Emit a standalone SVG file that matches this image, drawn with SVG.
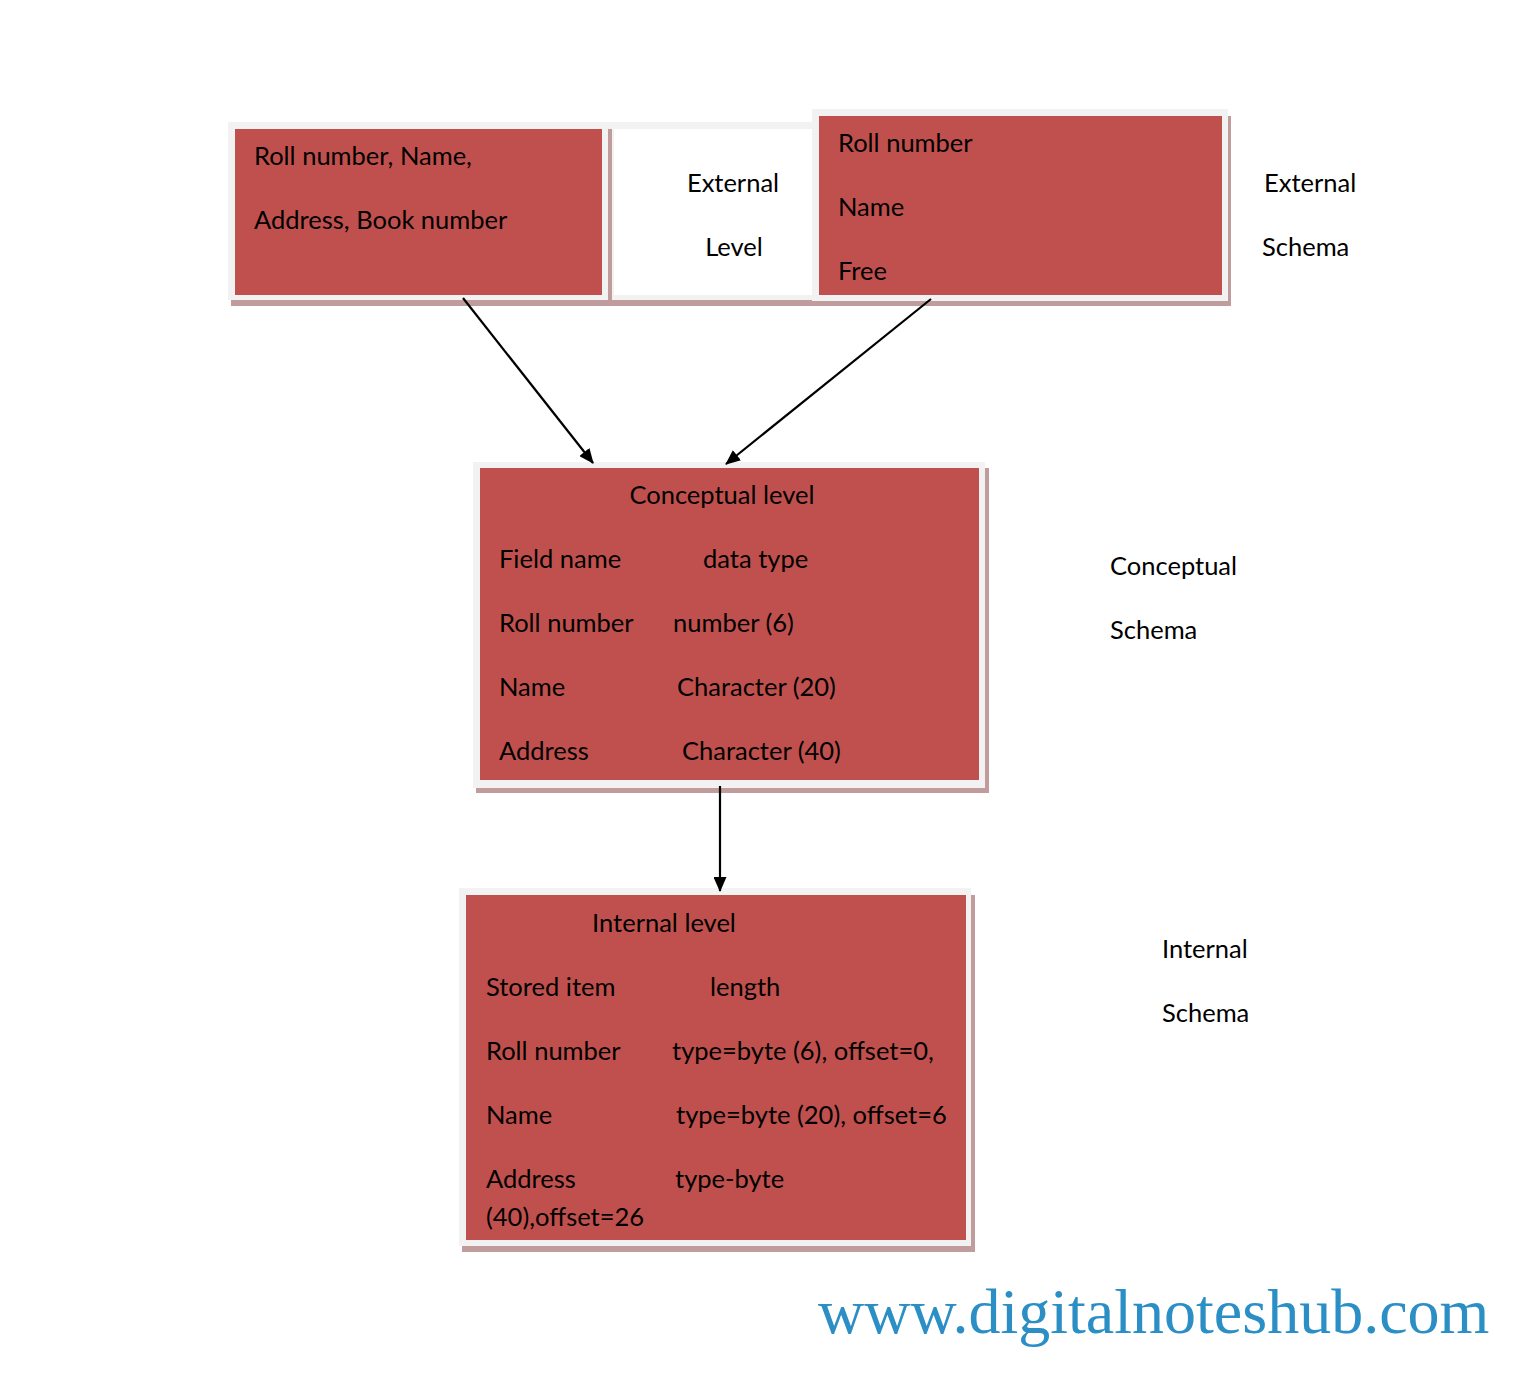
<svg xmlns="http://www.w3.org/2000/svg" width="1536" height="1380" viewBox="0 0 1536 1380">
<defs>
<style>
.t{font-family:Lato,"Liberation Sans",sans-serif;font-size:25.5px;fill:#000}
.frame{fill:#f2f2f2}
.shadow{fill:#c09c9c}
.red{fill:#c0504d}
.con{stroke:#000;stroke-width:2.2;fill:none}
.wm{font-family:"Liberation Serif","Times New Roman",serif;font-size:64px;fill:#2b8fc6}
</style>
<marker id="ah2" viewBox="0 0 15 13" refX="14" refY="6.5" markerWidth="15" markerHeight="13" orient="auto" markerUnits="userSpaceOnUse">
<path d="M0,0 L15,6.5 L0,13 z" fill="#000"/>
</marker>
</defs>
<rect width="1536" height="1380" fill="#fff"/>

<g id="ext-level">
<rect class="shadow" x="612" y="300" width="205" height="6"/>
<rect class="frame" x="608" y="122" width="210" height="178"/>
<rect x="614" y="129" width="200" height="166" fill="#fff"/>
<text class="t" x="733" y="192" text-anchor="middle">External</text>
<text class="t" x="734" y="256" text-anchor="middle">Level</text>
</g>

<g id="ext-view1">
<rect class="shadow" x="231" y="300" width="381" height="6"/>
<rect class="shadow" x="608" y="129" width="4" height="177"/>
<rect class="frame" x="228" y="122" width="380" height="178"/>
<rect class="red" x="235" y="129" width="367" height="166"/>
<text class="t" x="254" y="165">Roll number, Name,</text>
<text class="t" x="254" y="229">Address, Book number</text>
</g>

<g id="ext-view2">
<rect class="shadow" x="815" y="116" width="416" height="190"/>
<rect class="frame" x="812" y="109" width="416" height="192"/>
<rect class="red" x="819" y="116" width="403" height="179"/>
<text class="t" x="838" y="152">Roll number</text>
<text class="t" x="838" y="216">Name</text>
<text class="t" x="838" y="280">Free</text>
</g>

<g id="ext-schema">
<text class="t" x="1264" y="192">External</text>
<text class="t" x="1262" y="256">Schema</text>
</g>

<g id="conceptual">
<rect class="shadow" x="476" y="468" width="513" height="325"/>
<rect class="frame" x="473" y="462" width="512" height="326"/>
<rect class="red" x="480" y="468" width="499" height="312"/>
<text class="t" x="722" y="504" text-anchor="middle">Conceptual level</text>
<text class="t" x="499" y="568">Field name</text>
<text class="t" x="703" y="568">data type</text>
<text class="t" x="499" y="632">Roll number</text>
<text class="t" x="673" y="632">number (6)</text>
<text class="t" x="499" y="696">Name</text>
<text class="t" x="677" y="696">Character (20)</text>
<text class="t" x="499" y="760">Address</text>
<text class="t" x="682" y="760">Character (40)</text>
</g>

<g id="conc-schema">
<text class="t" x="1110" y="575">Conceptual</text>
<text class="t" x="1110" y="639">Schema</text>
</g>

<g id="internal">
<rect class="shadow" x="462" y="895" width="513" height="357"/>
<rect class="frame" x="459" y="888" width="512" height="358"/>
<rect class="red" x="466" y="895" width="500" height="345"/>
<text class="t" x="664" y="932" text-anchor="middle">Internal level</text>
<text class="t" x="486" y="996">Stored item</text>
<text class="t" x="710" y="996">length</text>
<text class="t" x="486" y="1060">Roll number</text>
<text class="t" x="672" y="1060">type=byte (6), offset=0,</text>
<text class="t" x="486" y="1124">Name</text>
<text class="t" x="676" y="1124">type=byte (20), offset=6</text>
<text class="t" x="486" y="1188">Address</text>
<text class="t" x="675" y="1188">type-byte</text>
<text class="t" x="486" y="1226">(40),offset=26</text>
</g>

<g id="int-schema">
<text class="t" x="1162" y="958">Internal</text>
<text class="t" x="1162" y="1022">Schema</text>
</g>

<g id="connectors">
<line class="con" x1="463" y1="298" x2="593" y2="463" marker-end="url(#ah2)"/>
<line class="con" x1="931" y1="299" x2="726" y2="464" marker-end="url(#ah2)"/>
<line class="con" x1="720" y1="786" x2="720" y2="891" marker-end="url(#ah2)"/>
</g>

<text class="wm" x="818" y="1333">www.digitalnoteshub.com</text>
</svg>
